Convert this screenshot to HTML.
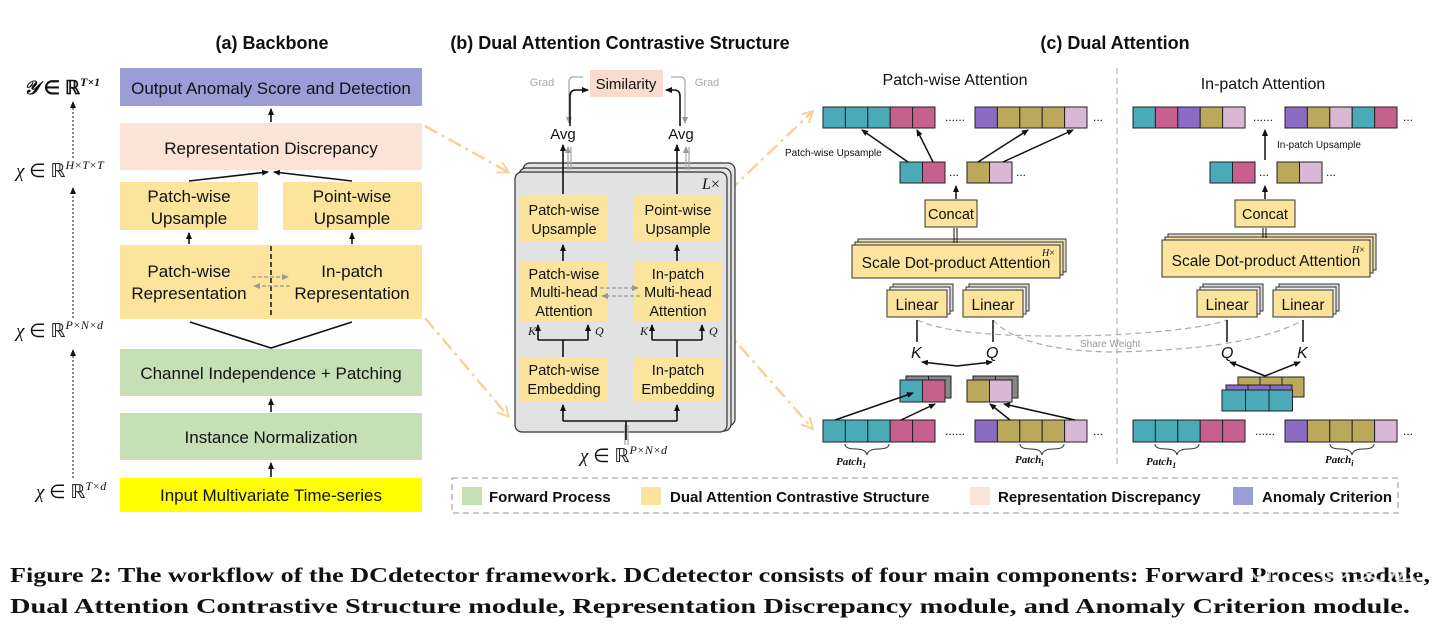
<!DOCTYPE html>
<html><head><meta charset="utf-8"><style>
html,body{margin:0;padding:0;background:#fff;}
svg{display:block;}
text{font-family:"Liberation Sans",sans-serif;fill:#111;}
.m{font-family:"Liberation Serif",serif;font-style:italic;}
.cap{font-family:"Liberation Serif",serif;font-weight:bold;font-size:21px;}
</style></head><body>
<svg width="1440" height="627" viewBox="0 0 1440 627" xmlns="http://www.w3.org/2000/svg">
<defs>
<marker id="a" markerWidth="8" markerHeight="8" refX="6" refY="3" orient="auto" markerUnits="userSpaceOnUse"><path d="M0,0 L7,3 L0,6 z" fill="#111"/></marker>
<marker id="g" markerWidth="8" markerHeight="8" refX="6" refY="3" orient="auto" markerUnits="userSpaceOnUse"><path d="M0,0 L7,3 L0,6 z" fill="#999"/></marker>
<marker id="o" markerWidth="14" markerHeight="14" refX="10" refY="6" orient="auto" markerUnits="userSpaceOnUse"><path d="M0,0 L11,6 L0,12" fill="none" stroke="#f6d29a" stroke-width="2"/></marker>
</defs>

<text x="272" y="49" font-size="18" font-weight="bold" text-anchor="middle">(a) Backbone</text>
<text x="620" y="49" font-size="18" font-weight="bold" text-anchor="middle">(b) Dual Attention Contrastive Structure</text>
<text x="1115" y="49" font-size="18" font-weight="bold" text-anchor="middle">(c) Dual Attention</text>

<rect x="120" y="68" width="302" height="38" fill="#9b9dd6"/>
<text x="271" y="94" font-size="17" text-anchor="middle">Output Anomaly Score and Detection</text>
<rect x="120" y="123" width="302" height="47" fill="#fbe3d7"/>
<text x="271" y="154" font-size="17" text-anchor="middle">Representation Discrepancy</text>
<rect x="120" y="182" width="138" height="48" fill="#fde49d"/>
<text x="189" y="202" font-size="17" text-anchor="middle">Patch-wise</text>
<text x="189" y="224" font-size="17" text-anchor="middle">Upsample</text>
<rect x="283" y="182" width="139" height="48" fill="#fde49d"/>
<text x="352" y="202" font-size="17" text-anchor="middle">Point-wise</text>
<text x="352" y="224" font-size="17" text-anchor="middle">Upsample</text>
<rect x="120" y="245" width="302" height="74" fill="#fde49d"/>
<text x="189" y="277" font-size="17" text-anchor="middle">Patch-wise</text>
<text x="189" y="299" font-size="17" text-anchor="middle">Representation</text>
<text x="352" y="277" font-size="17" text-anchor="middle">In-patch</text>
<text x="352" y="299" font-size="17" text-anchor="middle">Representation</text>
<line x1="271" y1="246" x2="271" y2="318" stroke="#111" stroke-width="1.5" stroke-dasharray="5,3"/>
<line x1="252" y1="277" x2="288" y2="277" stroke="#999" stroke-width="1.3" stroke-dasharray="4,2" marker-end="url(#g)"/>
<line x1="290" y1="286" x2="254" y2="286" stroke="#999" stroke-width="1.3" stroke-dasharray="4,2" marker-end="url(#g)"/>
<rect x="120" y="349" width="302" height="47" fill="#c5e0b5"/>
<text x="271" y="379" font-size="17" text-anchor="middle">Channel Independence + Patching</text>
<rect x="120" y="413" width="302" height="47" fill="#c5e0b5"/>
<text x="271" y="443" font-size="17" text-anchor="middle">Instance Normalization</text>
<rect x="120" y="478" width="302" height="34" fill="#ffff00"/>
<text x="271" y="501" font-size="17" text-anchor="middle">Input Multivariate Time-series</text>
<g stroke="#111" stroke-width="1.6" fill="none">
<line x1="271" y1="122" x2="271" y2="109" marker-end="url(#a)"/>
<line x1="189" y1="181" x2="268" y2="172" marker-end="url(#a)"/>
<line x1="352" y1="181" x2="274" y2="172" marker-end="url(#a)"/>
<line x1="189" y1="244" x2="189" y2="233" marker-end="url(#a)"/>
<line x1="352" y1="244" x2="352" y2="233" marker-end="url(#a)"/>
<polyline points="190,322 271,348 352,322" />
<line x1="271" y1="412" x2="271" y2="399" marker-end="url(#a)"/>
<line x1="271" y1="477" x2="271" y2="463" marker-end="url(#a)"/>
</g>
<g stroke="#111" stroke-width="1" stroke-dasharray="2,2" fill="none">
<line x1="73" y1="478" x2="73" y2="350" marker-end="url(#a)"/>
<line x1="73" y1="318" x2="73" y2="188" marker-end="url(#a)"/>
<line x1="73" y1="158" x2="73" y2="102" marker-end="url(#a)"/>
</g>
<text x="24" y="94" font-size="19" class="m" font-weight="bold">𝒴 <tspan font-style="normal">∈ ℝ</tspan><tspan font-size="12" dy="-8">T×1</tspan></text>
<text x="16" y="177" font-size="19" class="m">χ <tspan font-style="normal">∈ ℝ</tspan><tspan font-size="12" dy="-8">H×T×T</tspan></text>
<text x="16" y="337" font-size="19" class="m">χ <tspan font-style="normal">∈ ℝ</tspan><tspan font-size="12" dy="-8">P×N×d</tspan></text>
<text x="36" y="498" font-size="19" class="m">χ <tspan font-style="normal">∈ ℝ</tspan><tspan font-size="12" dy="-8">T×d</tspan></text>

<g stroke="#f6d29a" stroke-width="2.5" fill="none" stroke-dasharray="14,5,3,5">
<line x1="425" y1="126" x2="508" y2="172" marker-end="url(#o)"/>
<line x1="425" y1="318" x2="508" y2="416" marker-end="url(#o)"/>
<line x1="728" y1="192" x2="812" y2="112" marker-end="url(#o)"/>
<line x1="722" y1="326" x2="812" y2="428" marker-end="url(#o)"/>
</g>

<rect x="523" y="163" width="212" height="263" rx="7" fill="#e4e4e4" stroke="#333" stroke-width="1.2"/>
<rect x="519" y="168" width="212" height="263" rx="7" fill="#e4e4e4" stroke="#333" stroke-width="1.2"/>
<rect x="515" y="172" width="212" height="260" rx="7" fill="#e2e2e2" stroke="#333" stroke-width="1.2"/>
<text x="702" y="189" font-size="16" class="m">L<tspan font-style="normal">×</tspan></text>
<rect x="590" y="70" width="73" height="27" fill="#f9dccd"/>
<text x="626" y="89" font-size="15" text-anchor="middle">Similarity</text>
<text x="542" y="86" font-size="11" text-anchor="middle" style="fill:#aaa">Grad</text>
<text x="707" y="86" font-size="11" text-anchor="middle" style="fill:#aaa">Grad</text>
<text x="563" y="139" font-size="15" text-anchor="middle">Avg</text>
<text x="681" y="139" font-size="15" text-anchor="middle">Avg</text>
<g stroke="#aaa" stroke-width="1.3" fill="none">
<path d="M583,77 h-10 q-4,0 -4,6 v40" marker-end="url(#g)"/>
<path d="M671,77 h10 q4,0 4,6 v40" marker-end="url(#g)"/>
<line x1="568" y1="170" x2="568" y2="147" marker-end="url(#g)"/>
<line x1="571" y1="170" x2="571" y2="147"/>
<line x1="686" y1="170" x2="686" y2="147" marker-end="url(#g)"/>
<line x1="689" y1="170" x2="689" y2="147"/>
<line x1="625" y1="445" x2="625" y2="425"/>
<line x1="628" y1="445" x2="628" y2="425"/>
</g>
<g stroke="#111" stroke-width="1.6" fill="none">
<path d="M570,126 v-30 q0,-6 6,-6 h12" marker-end="url(#a)"/>
<path d="M680,126 v-30 q0,-6 -6,-6 h-8" marker-end="url(#a)"/>
<line x1="563" y1="194" x2="563" y2="145" marker-end="url(#a)"/>
<line x1="677" y1="194" x2="677" y2="145" marker-end="url(#a)"/>
<line x1="563" y1="261" x2="563" y2="245" marker-end="url(#a)"/>
<line x1="677" y1="261" x2="677" y2="245" marker-end="url(#a)"/>
<path d="M563,357 v-17 M538,340 h50"/>
<line x1="538" y1="340" x2="538" y2="325" marker-end="url(#a)"/>
<line x1="588" y1="340" x2="588" y2="325" marker-end="url(#a)"/>
<path d="M677,357 v-17 M652,340 h50"/>
<line x1="652" y1="340" x2="652" y2="325" marker-end="url(#a)"/>
<line x1="702" y1="340" x2="702" y2="325" marker-end="url(#a)"/>
<path d="M626,440 v-19 M563,421 h114"/>
<line x1="563" y1="421" x2="563" y2="405" marker-end="url(#a)"/>
<line x1="677" y1="421" x2="677" y2="405" marker-end="url(#a)"/>
</g>
<g fill="#fde49d">
<rect x="520" y="195" width="88" height="47"/><rect x="634" y="195" width="88" height="47"/>
<rect x="520" y="262" width="88" height="60"/><rect x="634" y="262" width="88" height="60"/>
<rect x="520" y="358" width="88" height="44"/><rect x="634" y="358" width="88" height="44"/>
</g>
<g font-size="14.5" text-anchor="middle">
<text x="564" y="215">Patch-wise</text><text x="564" y="234">Upsample</text>
<text x="678" y="215">Point-wise</text><text x="678" y="234">Upsample</text>
<text x="564" y="279">Patch-wise</text><text x="564" y="297">Multi-head</text><text x="564" y="316">Attention</text>
<text x="678" y="279">In-patch</text><text x="678" y="297">Multi-head</text><text x="678" y="316">Attention</text>
<text x="564" y="375">Patch-wise</text><text x="564" y="394">Embedding</text>
<text x="678" y="375">In-patch</text><text x="678" y="394">Embedding</text>
</g>
<text x="528" y="335" font-size="12" class="m">K</text><text x="595" y="335" font-size="12" class="m">Q</text>
<text x="640" y="335" font-size="12" class="m">K</text><text x="709" y="335" font-size="12" class="m">Q</text>
<line x1="600" y1="288" x2="638" y2="288" stroke="#999" stroke-width="1.3" stroke-dasharray="4,2" marker-end="url(#g)"/>
<line x1="640" y1="296" x2="602" y2="296" stroke="#999" stroke-width="1.3" stroke-dasharray="4,2" marker-end="url(#g)"/>
<text x="580" y="462" font-size="19" class="m">χ <tspan font-style="normal">∈ ℝ</tspan><tspan font-size="12" dy="-8">P×N×d</tspan></text>

<line x1="1117" y1="68" x2="1117" y2="468" stroke="#bbb" stroke-width="1.3" stroke-dasharray="6,4"/>
<text x="955" y="85" font-size="16" text-anchor="middle">Patch-wise Attention</text>
<text x="1263" y="89" font-size="16" text-anchor="middle">In-patch Attention</text>

<g stroke="#222" stroke-width="1">
<rect x="823" y="107" width="22.4" height="21" fill="#4aaab8"/><rect x="845.4" y="107" width="22.4" height="21" fill="#4aaab8"/><rect x="867.8" y="107" width="22.4" height="21" fill="#4aaab8"/><rect x="890.2" y="107" width="22.4" height="21" fill="#c8608f"/><rect x="912.6" y="107" width="22.4" height="21" fill="#c8608f"/>
<rect x="975" y="107" width="22.4" height="21" fill="#8a6cc4"/><rect x="997.4" y="107" width="22.4" height="21" fill="#bca85a"/><rect x="1019.8" y="107" width="22.4" height="21" fill="#bca85a"/><rect x="1042.2" y="107" width="22.4" height="21" fill="#bca85a"/><rect x="1064.6" y="107" width="22.4" height="21" fill="#d8b8d4"/>
<rect x="823" y="420" width="22.4" height="22" fill="#4aaab8"/><rect x="845.4" y="420" width="22.4" height="22" fill="#4aaab8"/><rect x="867.8" y="420" width="22.4" height="22" fill="#4aaab8"/><rect x="890.2" y="420" width="22.4" height="22" fill="#c8608f"/><rect x="912.6" y="420" width="22.4" height="22" fill="#c8608f"/>
<rect x="975" y="420" width="22.4" height="22" fill="#8a6cc4"/><rect x="997.4" y="420" width="22.4" height="22" fill="#bca85a"/><rect x="1019.8" y="420" width="22.4" height="22" fill="#bca85a"/><rect x="1042.2" y="420" width="22.4" height="22" fill="#bca85a"/><rect x="1064.6" y="420" width="22.4" height="22" fill="#d8b8d4"/>
<rect x="900" y="162" width="22.5" height="21" fill="#4aaab8"/><rect x="922.5" y="162" width="22.5" height="21" fill="#c8608f"/>
<rect x="967" y="162" width="22.5" height="21" fill="#bca85a"/><rect x="989.5" y="162" width="22.5" height="21" fill="#d8b8d4"/>
<rect x="906" y="376" width="22.5" height="22" fill="#888"/><rect x="928.5" y="376" width="22.5" height="22" fill="#888"/>
<rect x="900" y="380" width="22.5" height="22" fill="#4aaab8"/><rect x="922.5" y="380" width="22.5" height="22" fill="#c8608f"/>
<rect x="973" y="376" width="22.5" height="22" fill="#888"/><rect x="995.5" y="376" width="22.5" height="22" fill="#888"/>
<rect x="967" y="380" width="22.5" height="22" fill="#bca85a"/><rect x="989.5" y="380" width="22.5" height="22" fill="#d8b8d4"/>
<rect x="1133" y="107" width="22.4" height="21" fill="#4aaab8"/><rect x="1155.4" y="107" width="22.4" height="21" fill="#c8608f"/><rect x="1177.8" y="107" width="22.4" height="21" fill="#8a6cc4"/><rect x="1200.2" y="107" width="22.4" height="21" fill="#bca85a"/><rect x="1222.6" y="107" width="22.4" height="21" fill="#d8b8d4"/>
<rect x="1285" y="107" width="22.4" height="21" fill="#8a6cc4"/><rect x="1307.4" y="107" width="22.4" height="21" fill="#bca85a"/><rect x="1329.8" y="107" width="22.4" height="21" fill="#d8b8d4"/><rect x="1352.2" y="107" width="22.4" height="21" fill="#4aaab8"/><rect x="1374.6" y="107" width="22.4" height="21" fill="#c8608f"/>
<rect x="1133" y="420" width="22.4" height="22" fill="#4aaab8"/><rect x="1155.4" y="420" width="22.4" height="22" fill="#4aaab8"/><rect x="1177.8" y="420" width="22.4" height="22" fill="#4aaab8"/><rect x="1200.2" y="420" width="22.4" height="22" fill="#c8608f"/><rect x="1222.6" y="420" width="22.4" height="22" fill="#c8608f"/>
<rect x="1285" y="420" width="22.4" height="22" fill="#8a6cc4"/><rect x="1307.4" y="420" width="22.4" height="22" fill="#bca85a"/><rect x="1329.8" y="420" width="22.4" height="22" fill="#bca85a"/><rect x="1352.2" y="420" width="22.4" height="22" fill="#bca85a"/><rect x="1374.6" y="420" width="22.4" height="22" fill="#d8b8d4"/>
<rect x="1210" y="162" width="22.5" height="21" fill="#4aaab8"/><rect x="1232.5" y="162" width="22.5" height="21" fill="#c8608f"/>
<rect x="1277" y="162" width="22.5" height="21" fill="#bca85a"/><rect x="1299.5" y="162" width="22.5" height="21" fill="#d8b8d4"/>
<rect x="1238" y="377" width="22" height="20" fill="#bca85a"/><rect x="1260" y="377" width="22" height="20" fill="#bca85a"/><rect x="1282" y="377" width="22" height="20" fill="#bca85a"/>
<rect x="1226" y="385" width="22" height="20" fill="#8a6cc4"/><rect x="1248" y="385" width="22" height="20" fill="#8a6cc4"/><rect x="1270" y="385" width="22" height="20" fill="#8a6cc4"/>
<rect x="1222" y="390" width="23.5" height="21" fill="#4aaab8"/><rect x="1245.5" y="390" width="23.5" height="21" fill="#4aaab8"/><rect x="1269" y="390" width="23.5" height="21" fill="#4aaab8"/>
</g>
<g font-size="12" fill="#222">
<text x="945" y="121">......</text><text x="1093" y="121">...</text>
<text x="1253" y="121">......</text><text x="1403" y="121">...</text>
<text x="949" y="176">...</text><text x="1016" y="176">...</text>
<text x="1259" y="176">...</text><text x="1326" y="176">...</text>
<text x="945" y="435">......</text><text x="1093" y="435">...</text>
<text x="1255" y="435">......</text><text x="1403" y="435">...</text>
</g>
<text x="785" y="156" font-size="10">Patch-wise Upsample</text>
<text x="1277" y="148" font-size="10">In-patch Upsample</text>

<g stroke="#333" stroke-width="1">
<rect x="858" y="239" width="208" height="33" fill="#ece0b8"/><rect x="855" y="242" width="208" height="33" fill="#f2dfa5"/>
<rect x="852" y="245" width="208" height="33" fill="#fde49d"/>
<rect x="893" y="284" width="60" height="27" fill="#ddd"/><rect x="890" y="287" width="60" height="27" fill="#eee"/><rect x="887" y="290" width="60" height="27" fill="#fde49d"/>
<rect x="969" y="284" width="60" height="27" fill="#ddd"/><rect x="966" y="287" width="60" height="27" fill="#eee"/><rect x="963" y="290" width="60" height="27" fill="#fde49d"/>
<rect x="925" y="200" width="52" height="27" fill="#fde49d"/>
<rect x="1168" y="234" width="208" height="36" fill="#ece0b8"/><rect x="1165" y="237" width="208" height="36" fill="#f2dfa5"/>
<rect x="1162" y="240" width="208" height="37" fill="#fde49d"/>
<rect x="1203" y="284" width="60" height="27" fill="#ddd"/><rect x="1200" y="287" width="60" height="27" fill="#eee"/><rect x="1197" y="290" width="60" height="27" fill="#fde49d"/>
<rect x="1279" y="284" width="60" height="27" fill="#ddd"/><rect x="1276" y="287" width="60" height="27" fill="#eee"/><rect x="1273" y="290" width="60" height="27" fill="#fde49d"/>
<rect x="1235" y="200" width="60" height="27" fill="#fde49d"/>
</g>
<g font-size="14.5" text-anchor="middle">
<text x="951" y="219">Concat</text><text x="1265" y="219">Concat</text>
<text x="956" y="268" font-size="15.5">Scale Dot-product Attention</text>
<text x="1266" y="266" font-size="15.5">Scale Dot-product Attention</text>
<text x="917" y="310" font-size="15.5">Linear</text><text x="993" y="310" font-size="15.5">Linear</text>
<text x="1227" y="310" font-size="15.5">Linear</text><text x="1303" y="310" font-size="15.5">Linear</text>
</g>
<text x="1042" y="256" font-size="10" class="m">H<tspan font-style="normal">×</tspan></text>
<text x="1352" y="253" font-size="10" class="m">H<tspan font-style="normal">×</tspan></text>
<g font-size="16" class="m">
<text x="911" y="358">K</text><text x="986" y="358">Q</text>
<text x="1221" y="358">Q</text><text x="1297" y="358">K</text>
</g>
<text x="836" y="465" font-size="11" class="m" font-weight="bold">Patch<tspan font-size="8" dy="3">1</tspan></text>
<text x="1015" y="463" font-size="11" class="m" font-weight="bold">Patch<tspan font-size="8" dy="3">i</tspan></text>
<text x="1146" y="465" font-size="11" class="m" font-weight="bold">Patch<tspan font-size="8" dy="3">1</tspan></text>
<text x="1325" y="463" font-size="11" class="m" font-weight="bold">Patch<tspan font-size="8" dy="3">i</tspan></text>
<g stroke="#333" fill="none" stroke-width="1">
<path d="M845,444 q0,5 11,5 q10,0 11,6 q1,-6 11,-6 q11,0 11,-5"/>
<path d="M1020,444 q0,5 11,5 q10,0 11,6 q1,-6 11,-6 q11,0 11,-5"/>
<path d="M1155,444 q0,5 11,5 q10,0 11,6 q1,-6 11,-6 q11,0 11,-5"/>
<path d="M1330,444 q0,5 11,5 q10,0 11,6 q1,-6 11,-6 q11,0 11,-5"/>
</g>
<g stroke="#aaa" stroke-width="1.2" fill="none" stroke-dasharray="6,4">
<path d="M917,320 Q960,340 1110,335 Q1200,330 1227,320"/>
<path d="M993,320 Q1020,350 1110,352 Q1250,350 1303,320"/>
</g>
<text x="1080" y="347" font-size="10" style="fill:#999">Share Weight</text>
<g stroke="#111" stroke-width="1.5" fill="none">
<line x1="908" y1="162" x2="862" y2="130" marker-end="url(#a)"/>
<line x1="933" y1="162" x2="917" y2="130" marker-end="url(#a)"/>
<line x1="978" y1="162" x2="1028" y2="130" marker-end="url(#a)"/>
<line x1="1003" y1="162" x2="1073" y2="130" marker-end="url(#a)"/>
<line x1="956" y1="199" x2="956" y2="186" marker-end="url(#a)"/>
<line x1="1265" y1="160" x2="1265" y2="130" marker-end="url(#a)"/>
<line x1="1265" y1="199" x2="1265" y2="186" marker-end="url(#a)"/>
<line x1="917" y1="342" x2="917" y2="320"/><line x1="993" y1="342" x2="993" y2="320"/>
<line x1="1227" y1="342" x2="1227" y2="320"/><line x1="1303" y1="342" x2="1303" y2="320"/>
<line x1="957" y1="366" x2="922" y2="362" marker-end="url(#a)"/>
<line x1="957" y1="366" x2="992" y2="362" marker-end="url(#a)"/>
<line x1="1265" y1="376" x2="1230" y2="362" marker-end="url(#a)"/>
<line x1="1265" y1="376" x2="1300" y2="362" marker-end="url(#a)"/>
<line x1="835" y1="420" x2="913" y2="393" marker-end="url(#a)"/>
<line x1="901" y1="420" x2="935" y2="404" marker-end="url(#a)"/>
<line x1="1075" y1="420" x2="1004" y2="404" marker-end="url(#a)"/>
<line x1="1010" y1="420" x2="990" y2="404" marker-end="url(#a)"/>
</g>
<g stroke="#111" stroke-width="1"><line x1="954" y1="243" x2="954" y2="228"/><line x1="957" y1="243" x2="957" y2="228"/><line x1="1263" y1="238" x2="1263" y2="228"/><line x1="1266" y1="238" x2="1266" y2="228"/></g>

<rect x="452" y="478" width="946" height="35" fill="none" stroke="#aaa" stroke-width="1.3" stroke-dasharray="6,4"/>
<rect x="462" y="487" width="20" height="18" fill="#c5e0b5"/><text x="489" y="502" font-size="15" font-weight="bold">Forward Process</text>
<rect x="641" y="487" width="20" height="18" fill="#fde49d"/><text x="670" y="502" font-size="15" font-weight="bold">Dual Attention Contrastive Structure</text>
<rect x="970" y="487" width="20" height="18" fill="#fbe3d7"/><text x="998" y="502" font-size="15" font-weight="bold">Representation Discrepancy</text>
<rect x="1233" y="487" width="20" height="18" fill="#9b9dd6"/><text x="1262" y="502" font-size="15" font-weight="bold">Anomaly Criterion</text>

<text x="10" y="582" class="cap" textLength="1420" lengthAdjust="spacingAndGlyphs">Figure 2: The workflow of the DCdetector framework. DCdetector consists of four main components: Forward Process module,</text>
<text x="10" y="613" class="cap" textLength="1400" lengthAdjust="spacingAndGlyphs">Dual Attention Contrastive Structure module, Representation Discrepancy module, and Anomaly Criterion module.</text>
<text x="1240" y="580" font-size="34" style="fill:#fff;fill-opacity:0.75;font-family:'Liberation Sans','Noto Sans CJK SC',sans-serif">知乎 @艾宏峰</text>
</svg>
</body></html>
